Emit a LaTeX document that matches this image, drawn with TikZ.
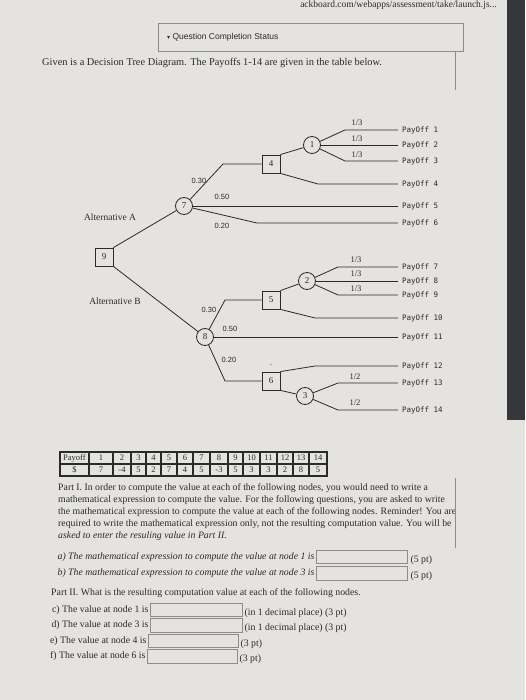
\documentclass[tikz,border=0pt]{standalone}
\usepackage{fontspec}
\setmainfont{Liberation Serif}
\setsansfont{Liberation Sans}
\setmonofont{DejaVu Sans Mono}
\newfontfamily\symfont{DejaVu Sans}
\usetikzlibrary{positioning}
\definecolor{PageGray}{HTML}{E4E3E0}
\definecolor{InkGray}{HTML}{2A2A2A}
\definecolor{FrameGray}{HTML}{8C8C8C}
\definecolor{Bezel}{HTML}{36373B}

\begin{document}
\begin{tikzpicture}[
  x=1pt, y=-1pt, color=InkGray,
  dec/.style={draw, line width=0.8pt, minimum size=18pt, inner sep=0pt,
              font=\fontsize{9}{9}\selectfont},
  chance/.style={draw, circle, line width=0.8pt, minimum size=17pt, inner sep=0pt,
                 font=\fontsize{9}{9}\selectfont},
  branch/.style={line width=0.8pt},
  pay/.style={anchor=west, inner xsep=4pt, inner ysep=0pt, outer sep=0pt,
              font=\ttfamily\fontsize{7.5}{8}\selectfont},
  prob/.style={inner sep=0pt, font=\sffamily\fontsize{7.5}{8}\selectfont},
  frac/.style={inner sep=0pt, font=\fontsize{8.5}{9}\selectfont},
  alt/.style={inner sep=0pt, font=\fontsize{9.5}{10}\selectfont},
  cell/.style={draw, line width=0.6pt, minimum height=10.5pt, inner sep=0pt,
               font=\fontsize{8.5}{9}\selectfont},
  ansbox/.style={draw=FrameGray, line width=0.7pt, minimum width=91pt,
                 minimum height=13.5pt, inner sep=0pt},
  body/.style={inner sep=0pt, align=left, font=\fontsize{9.8}{12}\selectfont}
]
\fill[PageGray] (0,0) rectangle (525,700);
\useasboundingbox (0,0) rectangle (525,700);
\fill[Bezel] (507,0) rectangle (525,420);

% header
\node[anchor=east, inner sep=0pt, font=\fontsize{9.5}{10}\selectfont] (url) at (497,5)
  {ackboard.com/webapps/assessment/take/launch.js...};
\node[draw=FrameGray, line width=0.6pt, anchor=north west, inner sep=0pt,
      minimum width=305pt, minimum height=28pt] (status) at (158,23) {};
\node[anchor=west, inner sep=0pt, font=\sffamily\fontsize{8.5}{9}\selectfont] (statustxt) at (167,37)
  {{\symfont\fontsize{6}{6}\selectfont ▾} Question Completion Status};
\coordinate (rtop) at (455,51);
\coordinate (rbot) at (455,90);
\draw[FrameGray, line width=0.6pt] (rtop) -- (rbot);
\node[anchor=west, inner sep=0pt, font=\fontsize{10.4}{12}\selectfont] (intro) at (42,63)
  {Given is a Decision Tree Diagram. The Payoffs 1-14 are given in the table below.};

% tree nodes
\node[dec]    (dc9) at (104,257) {9};
\node[chance] (ch7) at (184,206) {7};
\node[chance] (ch8) at (205,337) {8};
\node[dec]    (dc4) at (271,164) {4};
\node[dec]    (dc5) at (271,300) {5};
\node[dec]    (dc6) at (271,381) {6};
\node[chance] (ch1) at (312,145) {1};
\node[chance] (ch2) at (307,281) {2};
\node[chance] (ch3) at (305,396) {3};

\foreach \n/\y in {1/130,2/145,3/161,4/184,5/206,6/223,7/267,8/281,9/295,
                   10/318,11/337,12/366,13/383,14/410}
  \node[pay] (pay\n) at (398,\y) {PayOff \n};

\coordinate (k74)  at (223,164);
\coordinate (k76)  at (257,223);
\coordinate (k44)  at (318,184);
\coordinate (k11)  at (345,130);
\coordinate (k13)  at (345,161);
\coordinate (k85)  at (225,300);
\coordinate (k86)  at (225,381);
\coordinate (k510) at (315,318);
\coordinate (k27)  at (338,267);
\coordinate (k29)  at (338,295);
\coordinate (k612) at (315,366);
\coordinate (k313) at (338,383);
\coordinate (k314) at (338,410);

% branches
\draw[branch] (dc9.north east) -- (ch7);
\draw[branch] (dc9.south east) -- (ch8);
\draw[branch] (ch7) -- (k74) -- (dc4);
\draw[branch] (ch7) -- (pay5.west);
\draw[branch] (ch7) -- (k76) -- (pay6.west);
\draw[branch] (dc4.north east) -- (ch1);
\draw[branch] (dc4.south east) -- (k44) -- (pay4.west);
\draw[branch] (ch1) -- (k11) -- (pay1.west);
\draw[branch] (ch1) -- (pay2.west);
\draw[branch] (ch1) -- (k13) -- (pay3.west);
\draw[branch] (ch8) -- (k85) -- (dc5);
\draw[branch] (ch8) -- (pay11.west);
\draw[branch] (ch8) -- (k86) -- (dc6);
\draw[branch] (dc5.north east) -- (ch2);
\draw[branch] (dc5.south east) -- (k510) -- (pay10.west);
\draw[branch] (ch2) -- (k27) -- (pay7.west);
\draw[branch] (ch2) -- (pay8.west);
\draw[branch] (ch2) -- (k29) -- (pay9.west);
\draw[branch] (dc6.north east) -- (k612) -- (pay12.west);
\draw[branch] (dc6.south east) -- (ch3);
\draw[branch] (ch3) -- (k313) -- (pay13.west);
\draw[branch] (ch3) -- (k314) -- (pay14.west);

% branch labels
\node[prob] (q74)  at (199,181) {0.30};
\node[prob] (q75)  at (222,197) {0.50};
\node[prob] (q76)  at (222,226) {0.20};
\node[prob] (q85)  at (209,310) {0.30};
\node[prob] (q811) at (230,329) {0.50};
\node[prob] (q86)  at (229,360) {0.20};
\foreach \y [count=\i] in {123,139,155}
  \node[frac] (fa\i) at (357,\y) {1/3};
\foreach \y [count=\i] in {260,274,289}
  \node[frac] (fb\i) at (356,\y) {1/3};
\foreach \y [count=\i] in {377,403}
  \node[frac] (fc\i) at (355,\y) {1/2};
\node[inner sep=0pt, font=\fontsize{6}{6}\selectfont] (dots6) at (271,365) {..};
\node[alt] (altA) at (110,217) {Alternative A};
\node[alt] (altB) at (115,301) {Alternative B};

% payoff table
\foreach \i/\xc/\w/\h/\v in {0/74.5/29/Payoff/\$, 1/101/24/1/7, 2/122/18/2/-4,
    3/138.5/15/3/5, 4/153.5/15/4/2, 5/169/16/5/7, 6/185/16/6/4, 7/201.5/17/7/5,
    8/219/18/8/-3, 9/235.5/15/9/5, 10/251.5/17/10/3, 11/268.5/17/11/3,
    12/285/16/12/2, 13/301/16/13/8, 14/318/18/14/5} {
  \node[cell, minimum width=\w pt-1.5pt] (hd\i) at (\xc,458) {\h};
  \node[cell, minimum width=\w pt-1.5pt] (vl\i) at (\xc,470) {\v};
}
\draw[line width=0.6pt] (59.5,451.5) rectangle (327.5,476.5);

% part I
\node[body, anchor=north west] (part1) at (58,483)
  {Part I. In order to compute the value at each of the following nodes, you would need to write a\\
   mathematical expression to compute the value. For the following questions, you are asked to write\\
   the mathematical expression to compute the value at each of the following nodes. Reminder! You are\\
   required to write the mathematical expression only, not the resulting computation value. You will be\\
   \textit{asked to enter the resuling value in Part II.}};
\coordinate (ftop) at (455,478);
\coordinate (fbot) at (455,548);
\draw[FrameGray, line width=0.6pt] (ftop) -- (fbot);

\node[ansbox] (boxa) at (361.5,557) {};
\node[ansbox] (boxb) at (361.5,573.5) {};
\node[body, left=1pt of boxa] (qa) {\itshape a) The mathematical expression to compute the value at node 1 is};
\node[body, left=1pt of boxb] (qb) {\itshape b) The mathematical expression to compute the value at node 3 is};
\node[body, right=3pt of boxa, yshift=-3pt] (pa) {(5 pt)};
\node[body, right=3pt of boxb, yshift=-3pt] (pb) {(5 pt)};

% part II
\node[body, anchor=west] (part2) at (51,593)
  {Part II. What is the resulting computation value at each of the following nodes.};
\node[ansbox, minimum width=92pt] (boxc) at (196,610) {};
\node[ansbox, minimum width=92pt] (boxd) at (196,625.5) {};
\node[ansbox, minimum width=90pt] (boxe) at (193,641) {};
\node[ansbox, minimum width=90pt] (boxf) at (192,656.5) {};
\node[body, left=1pt of boxc] (qc) {c) The value at node 1 is};
\node[body, left=1pt of boxd] (qd) {d) The value at node 3 is};
\node[body, left=1pt of boxe] (qe) {e) The value at node 4 is};
\node[body, left=1pt of boxf] (qf) {f) The value at node 6 is};
\node[body, right=2pt of boxc, yshift=-3pt] (rc) {(in 1 decimal place) (3 pt)};
\node[body, right=2pt of boxd, yshift=-3pt] (rd) {(in 1 decimal place) (3 pt)};
\node[body, right=2pt of boxe, yshift=-3pt] (re) {(3 pt)};
\node[body, right=2pt of boxf, yshift=-3pt] (rf) {(3 pt)};
\end{tikzpicture}
\end{document}
